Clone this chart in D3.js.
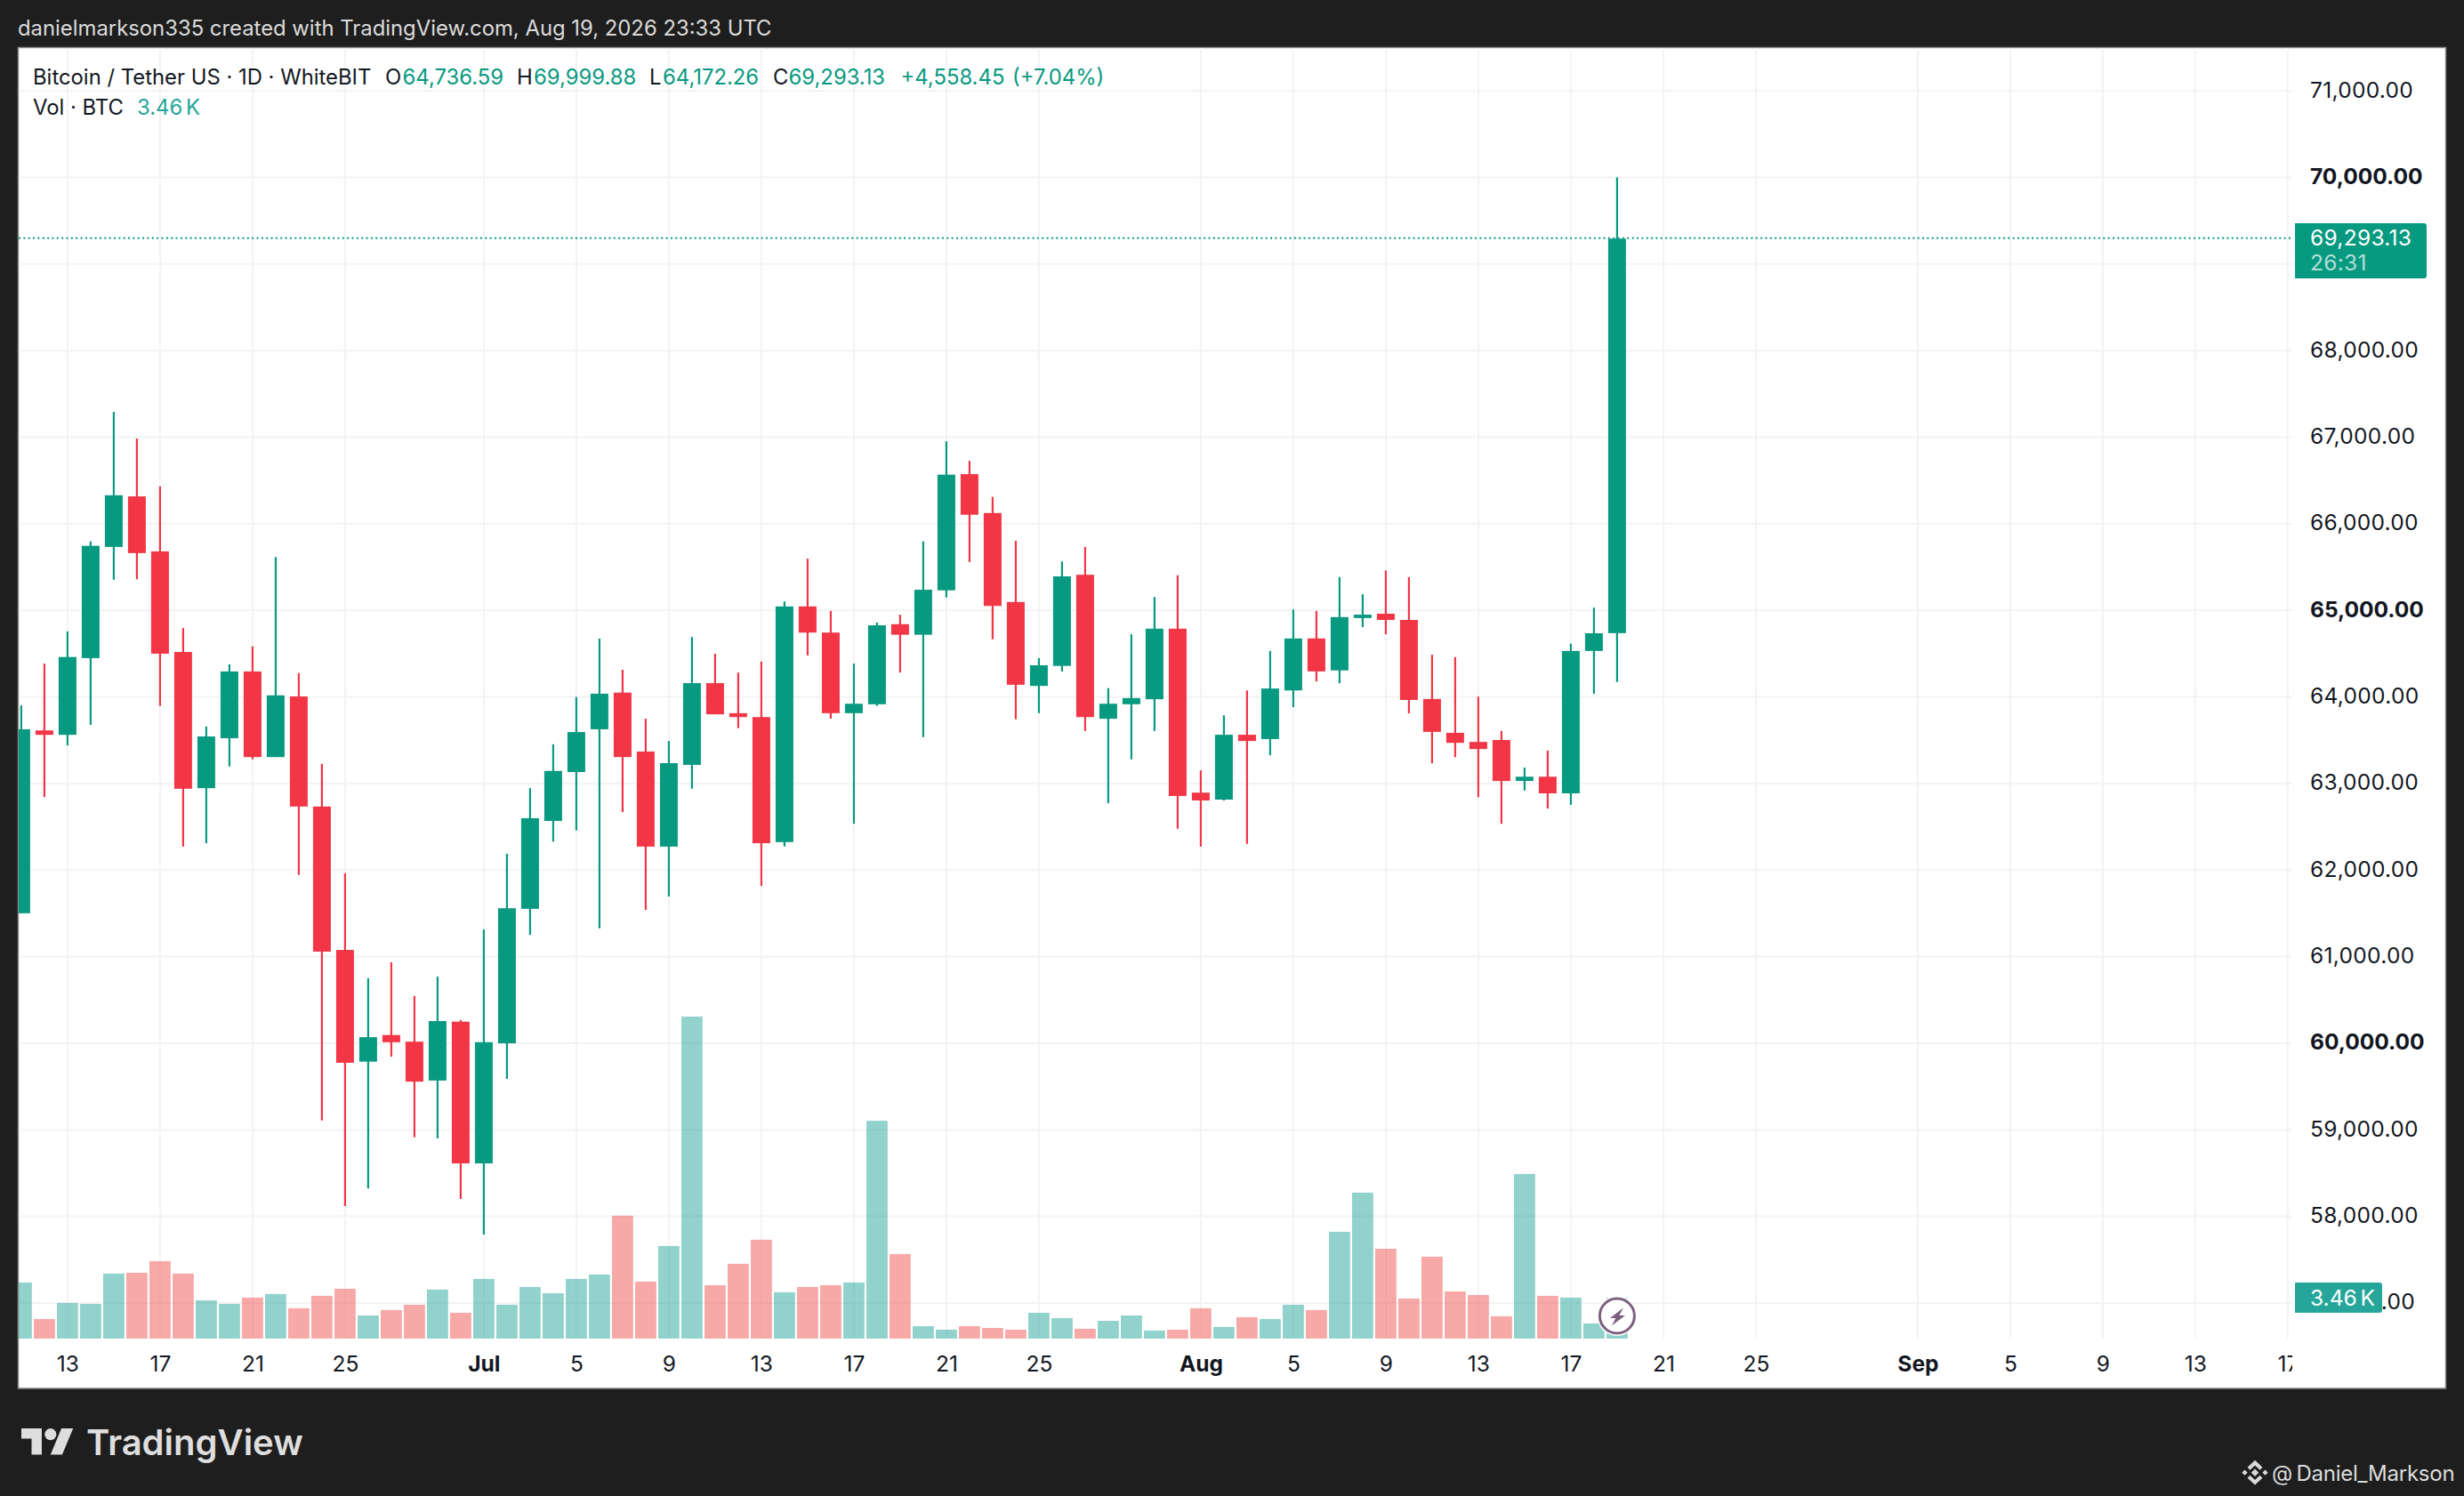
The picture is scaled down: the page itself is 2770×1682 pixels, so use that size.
<!DOCTYPE html>
<html lang="en">
<head>
  <meta charset="utf-8">
  <script src="https://d3js.org/d3.v7.min.js"></script>
  <style>
    html, body { margin: 0; padding: 0; background: #1e1e1e; }
    svg { display: block; }
    text { font-family: Inter, "Noto Sans", sans-serif; }
  </style>
</head>
<body>
<script>

// one candle per day, Jun 11 to Aug 19
var days = d3.utcDay.range(new Date(Date.UTC(2026, 5, 11)), new Date(Date.UTC(2026, 7, 20)));

var opens = [61501,63613,63562,64448,65732,66316,65681,64519,62946,63523,64294,63305,64005,62734,61077,59787,60095,60018,59569,60249,
  58612,59999,61552,62567,63132,63626,64050,63369,62271,63215,64159,63812,63767,62323,65045,64743,63812,63915,64840,64718,
  65231,66573,66124,65096,64127,64358,65411,63748,63915,63973,64788,62894,62814,63563,63513,64075,64675,64306,64911,64961,
  64889,63976,63585,63480,63502,63029,63078,62886,64531,64736.59];
var highs = [63902,64384,64756,65796,67292,66984,66432,64795,63658,64377,64583,65616,64275,63228,61963,60750,60936,60545,60769,60268,
  61315,62188,62946,63453,63999,64673,64313,63748,63491,64692,64499,64281,64409,65103,65597,64994,64384,64859,64949,65796,
  66952,66727,66310,65803,64448,65565,65732,64101,64724,65154,65405,63151,63788,64075,64531,65010,64994,65384,65186,65461,
  65384,64487,64460,64003,63607,63183,63381,64614,65032,69999.88];
var lows = [61501,62843,63440,63678,65353,65360,63896,62271,62310,63196,63279,63305,61944,59107,58118,58323,59845,58914,58901,58201,
  57790,59588,61251,62329,62458,61328,62670,61540,61694,62939,63799,63639,61816,62271,64480,63748,62535,63896,64281,63536,
  65148,65559,64666,63742,63812,64294,63607,62772,63279,63607,62477,62271,62803,62303,63326,63882,64179,64157,64807,64724,
  63810,63233,63304,62842,62534,62919,62710,62754,64036,64172.26];
var closes = [63626,63562,64461,65745,66329,65661,64499,62939,63543,64294,63305,64018,62734,61058,59774,60070,60012,59556,60256,58612,
  60012,61559,62599,63145,63594,64037,63305,62271,63235,64159,63799,63767,62310,65045,64743,63812,63921,64827,64718,65238,
  66567,66104,65051,64140,64365,65392,63767,63921,63986,64788,62856,62804,63563,63491,64097,64675,64295,64922,64950,64889,
  63965,63596,63469,63398,63029,63078,62886,64531,64735,69293.13];
// volume in thousands of BTC
var volumes = [4.74,1.65,3.01,2.93,5.49,5.56,6.54,5.49,3.23,2.93,3.46,3.76,2.56,3.61,4.21,1.95,2.41,2.86,4.14,2.18,
  5.04,2.86,4.36,3.83,5.04,5.41,10.38,4.81,7.82,27.2,4.51,6.32,8.35,3.91,4.36,4.51,4.74,18.4,7.14,1.05,
  0.75,1.05,0.9,0.75,2.18,1.73,0.83,1.5,1.95,0.68,0.75,2.56,0.98,1.8,1.65,2.86,2.41,9.02,12.33,7.59,
  3.38,6.92,3.98,3.68,1.88,13.9,3.61,3.46,1.28,3.46];

var priceGrid = [71000,70000,69000,68000,67000,66000,65000,64000,63000,62000,61000,60000,59000,58000,57000];
// 69,000 sits under the last price tag, so it gets no label
var priceLabels = [71000,70000,68000,67000,66000,65000,64000,63000,62000,61000,60000,59000,58000,57000];
var boldPrices = [70000,65000,60000];
var timeTicks = [[5,13],[5,17],[5,21],[5,25],[6,1],[6,5],[6,9],[6,13],[6,17],[6,21],[6,25],[7,1],[7,5],[7,9],[7,13],[7,17],[7,21],[7,25],[8,1],[8,5],[8,9],[8,13],[8,17]];
var timeLabels = ["13","17","21","25","Jul","5","9","13","17","21","25","Aug","5","9","13","17","21","25","Sep","5","9","13","17"];

var width = 2770,
    height = 1682,
    left = 21,
    top_ = 54,
    right = 2577,
    bottom = 1505;

var up = "#089981", down = "#f23645", ink = "#131722";
var axisFont = 24.5, legendFont = 23.85;

var svg = d3.select("body").append("svg")
    .attr("width", width)
    .attr("height", height);

svg.append("rect").attr("width", width).attr("height", height).attr("fill", "#1e1e1e");

svg.append("rect")
    .attr("x", 20.5).attr("y", 53.5)
    .attr("width", 2729).attr("height", 1507.5)
    .attr("fill", "#fff")
    .attr("stroke", "#8a8a8a")
    .attr("stroke-width", 1.5);

var x = d3.scaleUtc()
    .domain([new Date(Date.UTC(2026, 5, 13)), new Date(Date.UTC(2026, 8, 17))])
    .range([75.9, 2571.9]);

var y = d3.scaleLinear()
    .domain([70000, 58000])
    .range([199.5, 1367.6]);

var v = d3.scaleLinear()
    .domain([0, 27.2])
    .range([bottom, 1143]);

var defs = svg.append("defs");
defs.append("clipPath").attr("id", "pane").append("rect")
    .attr("x", left).attr("y", top_).attr("width", right - left).attr("height", bottom - top_);
defs.append("clipPath").attr("id", "timeclip").append("rect")
    .attr("x", left).attr("y", bottom).attr("width", right - left).attr("height", 55);

var tickDates = timeTicks.map(function(t) { return new Date(Date.UTC(2026, t[0], t[1])); });

// grid
var grid = svg.append("g").attr("clip-path", "url(#pane)");
grid.selectAll(".gy").data(priceGrid).enter().append("line")
    .attr("x1", left).attr("x2", right)
    .attr("y1", function(d) { return y(d); })
    .attr("y2", function(d) { return y(d); })
    .attr("stroke", "#f3f3f3").attr("stroke-width", 2);
grid.selectAll(".gx").data(tickDates).enter().append("line")
    .attr("x1", function(d) { return x(d); })
    .attr("x2", function(d) { return x(d); })
    .attr("y1", top_).attr("y2", bottom)
    .attr("stroke", "#f3f3f3").attr("stroke-width", 2);

var pane = svg.append("g").attr("clip-path", "url(#pane)");

// volume under the candles
pane.selectAll(".vol").data(days).enter().append("rect")
    .attr("x", function(d) { return x(d) - 11.9; })
    .attr("width", 23.8)
    .attr("y", function(d, i) { return v(volumes[i]); })
    .attr("height", function(d, i) { return bottom - v(volumes[i]); })
    .attr("fill", function(d, i) { return closes[i] >= opens[i] ? "#26a69a" : "#ef5350"; })
    .attr("fill-opacity", 0.5);

// candles
function candleColor(d, i) { return closes[i] >= opens[i] ? up : down; }

pane.selectAll(".wick").data(days).enter().append("line")
    .attr("x1", function(d) { return x(d); })
    .attr("x2", function(d) { return x(d); })
    .attr("y1", function(d, i) { return y(highs[i]); })
    .attr("y2", function(d, i) { return y(lows[i]); })
    .attr("stroke", candleColor)
    .attr("stroke-width", 2.2);

pane.selectAll(".body").data(days).enter().append("rect")
    .attr("x", function(d) { return x(d) - 10; })
    .attr("width", 20)
    .attr("y", function(d, i) { return y(Math.max(opens[i], closes[i])); })
    .attr("height", function(d, i) { return Math.abs(y(opens[i]) - y(closes[i])); })
    .attr("fill", candleColor);

// last price line
var last = closes[closes.length - 1];
svg.append("line")
    .attr("x1", left).attr("x2", right)
    .attr("y1", y(last) - 0.5).attr("y2", y(last) - 0.5)
    .attr("stroke", up).attr("stroke-width", 2)
    .attr("stroke-dasharray", "2 3.35");

// price axis
var yAxis = d3.axisRight(y)
    .tickValues(priceLabels)
    .tickSize(0)
    .tickPadding(0)
    .tickFormat(d3.format(",.2f"));

var yg = svg.append("g")
    .attr("transform", "translate(2597,-1)")
    .call(yAxis);
yg.select(".domain").remove();
yg.selectAll("text")
    .attr("font-size", axisFont)
    .attr("font-family", "Inter")
    .attr("fill", ink)
    .attr("letter-spacing", function(d) { return boldPrices.indexOf(d) >= 0 ? 0 : 0.3; })
    .attr("font-weight", function(d) { return boldPrices.indexOf(d) >= 0 ? 700 : 400; });

// time axis
var xAxis = d3.axisBottom(x)
    .tickValues(tickDates)
    .tickSize(0)
    .tickPadding(0)
    .tickFormat(function(d, i) { return timeLabels[i]; });

var xg = svg.append("g")
    .attr("clip-path", "url(#timeclip)")
  .append("g")
    .attr("transform", "translate(0,1524.5)")
    .call(xAxis);
xg.select(".domain").remove();
xg.selectAll("text")
    .attr("font-size", axisFont)
    .attr("font-family", "Inter")
    .attr("fill", ink)
    .attr("font-weight", function(d, i) { return isNaN(+timeLabels[i]) ? 700 : 400; });

// last price tag
svg.append("path")
    .attr("d", "M2580,251H2725a3,3 0 0 1 3,3V310a3,3 0 0 1 -3,3H2580Z")
    .attr("fill", up);
svg.append("text").attr("x", 2597).attr("y", 275.5).attr("font-size", axisFont).attr("letter-spacing", 0.3).attr("fill", "#fff")
    .text(d3.format(",.2f")(last));
svg.append("text").attr("x", 2597).attr("y", 303.5).attr("font-size", axisFont).attr("letter-spacing", 0.3).attr("fill", "#fff").attr("fill-opacity", 0.7)
    .text("26:31");

// volume tag
svg.append("path")
    .attr("d", "M2580,1442H2675a3,3 0 0 1 3,3V1473a3,3 0 0 1 -3,3H2580Z")
    .attr("fill", "#26a69a");
svg.append("text").attr("x", 2597).attr("y", 1467.5).attr("font-size", axisFont).attr("word-spacing", -3).attr("fill", "#fff")
    .text("3.46 K");

// lightning marker on the last bar
var cx = x(days[days.length - 1]);
var marker = svg.append("g").attr("transform", "translate(" + cx + ",1479.5)");
marker.append("circle").attr("r", 22.5).attr("fill", "#fff");
marker.append("circle").attr("r", 19.5).attr("fill", "#fff").attr("stroke", "#7d5f80").attr("stroke-width", 3);
marker.append("path").attr("d", "M7,-9L-8,2.5H-1.5L-6,11L9,-0.5H2.5Z").attr("fill", "#7d5f80");

// header
svg.append("text").attr("x", 20).attr("y", 40).attr("font-size", legendFont).attr("fill", "#dbdbdb")
    .text("danielmarkson335 created with TradingView.com, Aug 19, 2026 23:33 UTC");

// legend row
var legend = [
  [37, "Bitcoin / Tether US · 1D · WhiteBIT", ink],
  [433, "O", ink], [452.5, "64,736.59", up],
  [581, "H", ink], [600, "69,999.88", up],
  [730, "L", ink], [745, "64,172.26", up],
  [869, "C", ink], [886.5, "69,293.13", up],
  [1012.5, "+4,558.45", up], [1138, "(+7.04%)", up]
];
svg.selectAll(".lg").data(legend).enter().append("text")
    .attr("x", function(d) { return d[0]; })
    .attr("y", 94.5)
    .attr("font-size", legendFont)
    .attr("fill", function(d) { return d[2]; })
    .text(function(d) { return d[1]; });
svg.append("text").attr("x", 37).attr("y", 128.5).attr("font-size", legendFont).attr("fill", ink).text("Vol · BTC");
svg.append("text").attr("x", 154).attr("y", 128.5).attr("font-size", legendFont).attr("word-spacing", -3).attr("fill", "#26a69a").text("3.46 K");

// TradingView logo
var logo = svg.append("g").attr("transform", "translate(24,1599.5) scale(1.64)").attr("fill", "#dedede");
logo.append("path").attr("d", "M14 22H7V11H0V4h14v18zM28 22h-8l7.5-18h8L28 22z");
logo.append("circle").attr("cx", 20).attr("cy", 8).attr("r", 4);
svg.append("text").attr("x", 97).attr("y", 1636).attr("font-size", 40).attr("font-weight", 600).attr("fill", "#dedede")
    .text("TradingView");

// watermark
var wm = svg.append("g").attr("transform", "translate(2535,1655.7)").attr("fill", "#d9d9d9");
[[0,0,3],[-11.5,0,2.2],[11.5,0,2.2]].forEach(function(s) {
  wm.append("rect")
      .attr("x", -s[2]).attr("y", -s[2])
      .attr("width", s[2] * 2).attr("height", s[2] * 2)
      .attr("transform", "translate(" + s[0] + "," + s[1] + ") rotate(45)");
});
wm.append("path").attr("d", "M-7,-4.5L0,-11L7,-4.5M-7,4.5L0,11L7,4.5")
    .attr("fill", "none").attr("stroke", "#d9d9d9").attr("stroke-width", 4.2);
svg.append("text").attr("x", 2554).attr("y", 1665).attr("font-size", 24).attr("font-family", "Open Sans").attr("fill", "#dcdcdc")
    .text("@");
svg.append("text").attr("x", 2581.5).attr("y", 1665).attr("font-size", 24).attr("letter-spacing", -0.25).attr("font-family", "Open Sans").attr("fill", "#dcdcdc")
    .text("Daniel_Markson");

</script>
</body>
</html>
